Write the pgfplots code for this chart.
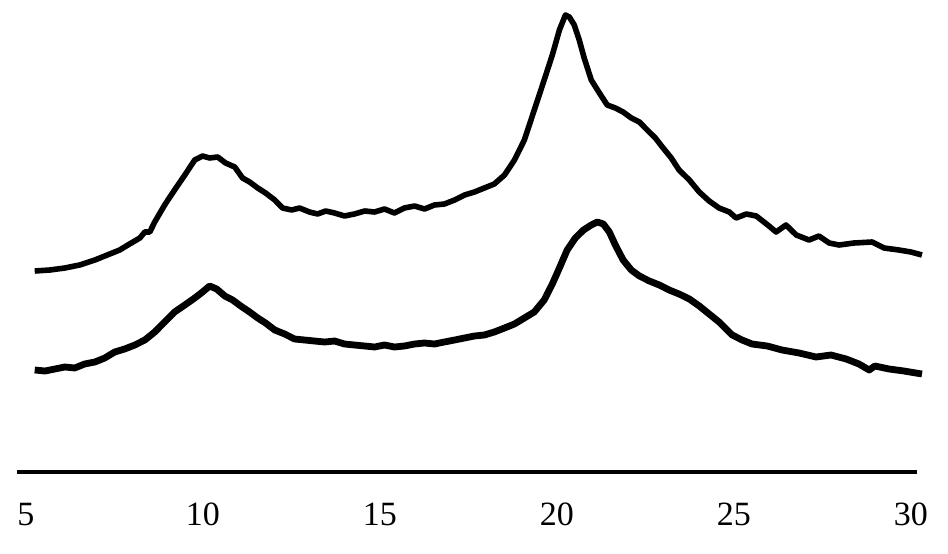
\documentclass[border=0pt]{standalone}
\usepackage{pgfplots}
\pgfplotsset{compat=1.18}
\usepackage{fontspec}
\setmainfont{Liberation Serif}
\begin{document}
\begin{tikzpicture}
\useasboundingbox (-8.5pt,-40.5pt) rectangle (465.5pt,236pt);
\begin{axis}[
  at={(0,0)}, anchor=south west,
  scale only axis, width=450pt, height=236pt,
  xmin=4.75, xmax=30.17, ymin=0, ymax=472,
  axis x line=bottom, axis y line=none,
  x axis line style={-, line width=2.3pt},
  xtick={5,10,15,20,25,30},
  major tick length=0pt,
  ytick=\empty,
  /pgf/number format/assume math mode=true,
  xticklabel style={anchor=base, yshift=-26.5pt, font=\fontsize{17}{17}\selectfont},
  clip=false,
]
\addplot[black, line width=2.8pt, line join=round] coordinates {
(5.25,201) (5.68,202) (6.10,204) (6.52,207) (6.95,212) (7.37,218) (7.65,222) (7.93,228)
(8.22,234) (8.36,240) (8.50,240) (8.64,250) (8.92,267) (9.20,282) (9.49,297) (9.77,312)
(9.99,316) (10.19,314) (10.42,315) (10.64,309) (10.90,305) (11.12,294) (11.32,290)
(11.55,284) (11.77,279) (12.03,272) (12.25,264) (12.51,262) (12.73,264) (13.01,260)
(13.24,258) (13.47,261) (13.72,259) (14.00,256) (14.28,258) (14.57,261) (14.85,260)
(15.13,263) (15.41,259) (15.69,264) (15.98,266) (16.26,263) (16.54,267) (16.82,268)
(17.11,272) (17.39,277) (17.67,280) (17.95,284) (18.23,288) (18.52,297) (18.80,312)
(19.08,332) (19.36,362) (19.64,392) (19.87,417) (20.07,442) (20.24,457) (20.35,455)
(20.49,447) (20.63,432) (20.77,414) (20.97,392) (21.20,379) (21.42,367) (21.65,364)
(21.87,360) (22.10,354) (22.33,350) (22.55,342) (22.78,334) (23.00,324) (23.23,314)
(23.45,302) (23.74,292) (24.02,280) (24.30,271) (24.58,264) (24.87,260) (25.06,254)
(25.35,258) (25.63,256) (25.99,246) (26.19,240) (26.47,247) (26.76,237) (27.12,232)
(27.40,236) (27.69,229) (27.97,227) (28.39,229) (28.90,230) (29.24,224) (29.66,222)
(30.00,220) (30.31,217)
};
\addplot[black, line width=3.4pt, line join=round] coordinates {
(5.25,102) (5.54,101) (5.82,103) (6.10,105) (6.38,104) (6.66,108) (6.95,110) (7.23,114)
(7.51,120) (7.79,123) (8.08,127) (8.36,132) (8.64,140) (8.92,150) (9.20,160) (9.49,167)
(9.77,174) (9.99,180) (10.19,186) (10.39,183) (10.62,176) (10.84,172) (11.07,166)
(11.32,160) (11.55,154) (11.77,149) (12.03,142) (12.31,138) (12.59,133) (12.87,132)
(13.15,131) (13.44,130) (13.72,131) (14.00,128) (14.28,127) (14.57,126) (14.85,125)
(15.13,127) (15.41,125) (15.69,126) (15.98,128) (16.26,129) (16.54,128) (16.82,130)
(17.11,132) (17.39,134) (17.67,136) (17.95,137) (18.23,140) (18.52,144) (18.80,148)
(19.08,154) (19.36,160) (19.64,172) (19.87,188) (20.07,204) (20.29,222) (20.52,234)
(20.75,242) (20.97,247) (21.14,250) (21.31,248) (21.48,240) (21.65,227) (21.87,212)
(22.10,202) (22.33,196) (22.61,191) (22.89,187) (23.17,182) (23.45,178) (23.74,173)
(24.02,166) (24.30,158) (24.58,150) (24.95,137) (25.23,132) (25.51,128) (25.94,126)
(26.36,122) (26.84,119) (27.32,115) (27.74,117) (28.17,113) (28.53,108) (28.82,102)
(28.98,106) (29.38,103) (29.80,101) (30.31,98)
};
\end{axis}
\end{tikzpicture}
\end{document}
